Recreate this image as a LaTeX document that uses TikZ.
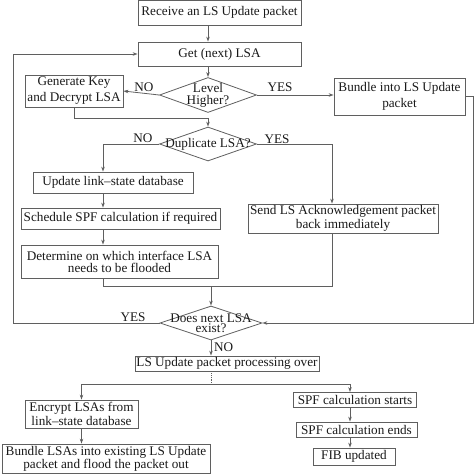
\documentclass[tikz,border=0pt]{standalone}
\usepackage{fontspec}
\setmainfont{Liberation Serif}
\usepackage{tikz}
\usetikzlibrary{shapes.geometric,arrows.meta,positioning}

\definecolor{linegray}{RGB}{95,95,95}
\definecolor{textgray}{RGB}{25,25,25}

\tikzset{
    box/.style={draw=linegray, rectangle, inner sep=0pt, align=center, text=textgray, line width=0.8pt},
    decision/.style={draw=linegray, diamond, inner sep=0pt, line width=0.8pt},
    arr/.style={-{Stealth[length=5pt,width=3.5pt]}, draw=linegray, line width=0.8pt},
    conn/.style={draw=linegray, line width=0.8pt},
    answer/.style={text=textgray, inner sep=0pt}
}

\begin{document}
\begin{tikzpicture}[x=1pt, y=-1pt, font=\fontsize{13.2}{13.5}\selectfont]
    \useasboundingbox (0,0) rectangle (474,474);

    % boxes and decisions
    \node[box, minimum width=163pt, minimum height=24.5pt] (recv) at (219.5,12.75) {Receive an LS Update packet};
    \node[box, minimum width=163pt, minimum height=24pt] (getlsa) at (219.5,54) {Get (next) LSA};
    \node[decision, minimum width=97pt, minimum height=35pt, label={[answer, align=center, font=\fontsize{13.2}{12}\selectfont]center:Level\\Higher?}] (level) at (208,95) {};
    \node[box, minimum width=98pt, minimum height=32pt, font=\fontsize{13.2}{16}\selectfont] (genkey) at (74,91) {Generate Key\\and Decrypt LSA};
    \node[box, minimum width=131pt, minimum height=37pt, font=\fontsize{13.2}{16}\selectfont] (bundle) at (399.5,96.5) {Bundle into LS Update\\packet};
    \node[decision, minimum width=97pt, minimum height=34pt, label={[answer]center:Duplicate LSA?}] (dup) at (208,144) {};

    \node[box, minimum width=160pt, minimum height=21pt] (update) at (113,182.5) {Update link--state database};
    \node[box, minimum width=199pt, minimum height=21pt] (sched) at (120.5,218.5) {Schedule SPF calculation if required};
    \node[box, minimum width=197pt, minimum height=33pt, font=\fontsize{13.2}{12}\selectfont] (determ) at (119.5,261.5) {Determine on which interface LSA\\needs to be flooded};
    \node[box, minimum width=190pt, minimum height=29pt] (send) at (343,218.5) {Send LS Acknowledgement packet\\back immediately};

    \node[decision, minimum width=102pt, minimum height=34pt, label={[answer, align=center, font=\fontsize{13.2}{9.5}\selectfont]center:Does next LSA\\exist?}] (next) at (211,323) {};
    \node[box, minimum width=184pt, minimum height=15pt] (over) at (227,363.5) {LS Update packet processing over};

    \node[box, minimum width=113pt, minimum height=28pt] (encrypt) at (81.5,414) {Encrypt LSAs from\\link--state database};
    \node[box, minimum width=208pt, minimum height=29.5pt, font=\fontsize{13.2}{11.5}\selectfont] (bundleout) at (106,458.75) {Bundle LSAs into existing LS Update\\packet and flood the packet out};

    \node[box, minimum width=123pt, minimum height=15pt] (spfstart) at (355,400) {SPF calculation starts};
    \node[box, minimum width=121pt, minimum height=15pt] (spfend) at (356.5,429.5) {SPF calculation ends};
    \node[box, minimum width=82pt, minimum height=17pt] (fib) at (354,456.5) {FIB updated};

    % answers
    \node[answer] (no1) at (144,87) {NO};
    \node[answer] (yes1) at (280,87) {YES};
    \node[answer] (no2) at (143,138) {NO};
    \node[answer] (yes2) at (277,139) {YES};
    \node[answer] (yes3) at (133,317) {YES};
    \node[answer, anchor=west] (no3) at (214,347) {NO};

    % helper coordinates
    \coordinate (loopx) at (13,0);
    \coordinate (rightx) at (473,0);
    \coordinate (colx) at (103,0);
    \coordinate (sendx) at (332,0);
    \coordinate (spfx) at (350,0);
    \coordinate (j1) at (208,118);
    \coordinate (j2) at (211,286);
    \coordinate (j3) at (211,384);

    % connectors
    \draw[arr] (recv.south -| level.north) -- (getlsa.north -| level.north);
    \draw[arr] (getlsa.south -| level.north) -- (level.north);
    \draw[arr] (level.west) -- (genkey.east);
    \draw[arr] (level.east) -- (level.east -| bundle.west);
    \draw[arr] (bundle.east) -- (rightx |- bundle.east) |- (next.east);
    \draw[arr] (genkey.south) |- (j1) -- (dup.north);

    \draw[arr] (dup.west) -| (colx |- update.north);
    \draw[arr] (dup.east) -| (sendx |- send.north);
    \draw[arr] (colx |- update.south) -- (colx |- sched.north);
    \draw[arr] (colx |- sched.south) -- (colx |- determ.north);
    \draw[conn] (colx |- determ.south) |- (j2);
    \draw[conn] (sendx |- send.south) |- (j2);
    \draw[arr] (j2) -- (next.north);

    \draw[arr] (next.west) -- (next.west -| loopx) |- (getlsa.west);
    \draw[arr] (next.south) -- (next.south |- over.north);
    \draw[conn, densely dotted] (next.south |- over.south) -- (j3);
    \draw[arr] (j3) -| (encrypt.north);
    \draw[arr] (j3) -| (spfx |- spfstart.north);
    \draw[arr] (encrypt.south) -- (encrypt.south |- bundleout.north);
    \draw[arr] (spfx |- spfstart.south) -- (spfx |- spfend.north);
    \draw[arr] (spfx |- spfend.south) -- (spfx |- fib.north);

\end{tikzpicture}
\end{document}
